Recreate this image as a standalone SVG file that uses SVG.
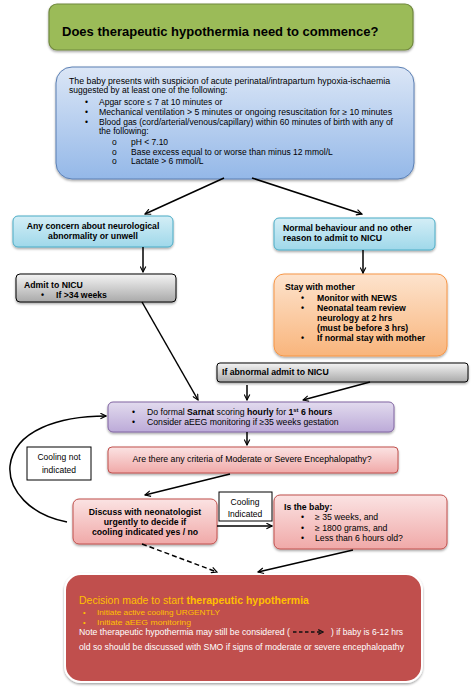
<svg xmlns="http://www.w3.org/2000/svg" width="474" height="694" viewBox="0 0 474 694">
<defs>
<linearGradient id="gBlue" x1="0" y1="0" x2="0" y2="1"><stop offset="0" stop-color="#dbe6f6"/><stop offset="1" stop-color="#94b8e8"/></linearGradient>
<linearGradient id="gCyan" x1="0" y1="0" x2="0" y2="1"><stop offset="0" stop-color="#d4eef6"/><stop offset="1" stop-color="#9fd8ea"/></linearGradient>
<linearGradient id="gGray" x1="0" y1="0" x2="0" y2="1"><stop offset="0" stop-color="#f4f4f4"/><stop offset="1" stop-color="#a9a9a9"/></linearGradient>
<linearGradient id="gOrange" x1="0" y1="0" x2="0" y2="1"><stop offset="0" stop-color="#fde3cd"/><stop offset="1" stop-color="#f9b57c"/></linearGradient>
<linearGradient id="gPurple" x1="0" y1="0" x2="0" y2="1"><stop offset="0" stop-color="#e2dbee"/><stop offset="1" stop-color="#bcaad8"/></linearGradient>
<linearGradient id="gPink" x1="0" y1="0" x2="0" y2="1"><stop offset="0" stop-color="#fbe3e3"/><stop offset="1" stop-color="#f0a9a8"/></linearGradient>
<filter id="sh" x="-10%" y="-10%" width="120%" height="130%"><feDropShadow dx="0" dy="1.5" stdDeviation="1.2" flood-color="#000" flood-opacity="0.35"/></filter>
<marker id="ah" viewBox="0 0 10 10" refX="9" refY="5" markerWidth="7" markerHeight="7" orient="auto" markerUnits="userSpaceOnUse"><path d="M1,1 L9,5 L1,9" fill="none" stroke="#000" stroke-width="1.6"/></marker>
<marker id="ahs" viewBox="0 0 10 10" refX="9" refY="5" markerWidth="6" markerHeight="6" orient="auto" markerUnits="userSpaceOnUse"><path d="M1,1 L9,5 L1,9" fill="none" stroke="#111" stroke-width="2"/></marker>
</defs>
<style>
text{font-family:"Liberation Sans",Arial,sans-serif;fill:#000}
.t8{font-size:8.7px}
.s8{font-size:8.5px}
.b8{font-size:8.7px;font-weight:bold}
.n8{font-size:8.5px}
.ln{stroke:#000;stroke-width:1.5;fill:none}
.c{text-anchor:middle}
.y{fill:#ffc000}
.w{fill:#fff;font-size:8.6px}
</style>
<rect width="474" height="694" fill="#fff"/>

<g id="title">
<rect x="49" y="4" width="364" height="46" rx="8" fill="#9bbb59" stroke="#71893f" stroke-width="1.2" filter="url(#sh)"/>
<text x="62" y="36" style="font-size:13px;font-weight:bold">Does therapeutic hypothermia need to commence?</text>
</g>

<g id="presents">
<rect x="56" y="67" width="358" height="112" rx="16" fill="url(#gBlue)" stroke="#5b7fb3" stroke-width="1" filter="url(#sh)"/>
<text class="s8" x="69" y="84" textLength="321" lengthAdjust="spacingAndGlyphs">The baby presents with suspicion of acute perinatal/intrapartum hypoxia-ischaemia</text>
<text class="s8" x="69" y="93">suggested by at least one of the following:</text>
<text class="s8" x="85" y="105">•</text><text class="s8" x="99" y="105">Apgar score ≤ 7 at 10 minutes or</text>
<text class="s8" x="85" y="115">•</text><text class="s8" x="99" y="115" textLength="293" lengthAdjust="spacingAndGlyphs">Mechanical ventilation &gt; 5 minutes or ongoing resuscitation for ≥ 10 minutes</text>
<text class="s8" x="85" y="125">•</text><text class="s8" x="99" y="125" textLength="294" lengthAdjust="spacingAndGlyphs">Blood gas (cord/arterial/venous/capillary) within 60 minutes of birth with any of</text>
<text class="s8" x="99" y="134">the following:</text>
<text class="s8" x="112" y="145">o</text><text class="s8" x="131" y="145">pH &lt; 7.10</text>
<text class="s8" x="112" y="155">o</text><text class="s8" x="131" y="155">Base excess equal to or worse than minus 12 mmol/L</text>
<text class="s8" x="112" y="164">o</text><text class="s8" x="131" y="164">Lactate &gt; 6 mmol/L</text>
</g>

<g id="concern">
<rect x="13" y="216" width="160" height="31" rx="5" fill="url(#gCyan)" stroke="#4bacc6" stroke-width="1" filter="url(#sh)"/>
<text class="b8 c" x="93" y="229">Any concern about neurological</text>
<text class="b8 c" x="93" y="239">abnormality or unwell</text>
</g>

<g id="normal">
<rect x="274" y="218" width="161" height="32" rx="5" fill="url(#gCyan)" stroke="#4bacc6" stroke-width="1" filter="url(#sh)"/>
<text class="b8" x="283" y="231">Normal behaviour and no other</text>
<text class="b8" x="283" y="241">reason to admit to NICU</text>
</g>

<g id="admit">
<rect x="16" y="274" width="160" height="28" rx="4" fill="url(#gGray)" stroke="#000" stroke-width="1" filter="url(#sh)"/>
<text class="b8" x="24" y="288">Admit to NICU</text>
<text class="b8" x="41" y="298">•</text><text class="b8" x="56" y="298">If &gt;34 weeks</text>
</g>

<g id="mother">
<rect x="274" y="274" width="173" height="82" rx="10" fill="url(#gOrange)" stroke="#f79646" stroke-width="1" filter="url(#sh)"/>
<text class="b8" x="285" y="290">Stay with mother</text>
<text class="b8" x="301" y="301">•</text><text class="b8" x="317" y="301">Monitor with NEWS</text>
<text class="b8" x="301" y="311">•</text><text class="b8" x="317" y="311">Neonatal team review</text>
<text class="b8" x="317" y="321">neurology at 2 hrs</text>
<text class="b8" x="317" y="331">(must be before 3 hrs)</text>
<text class="b8" x="301" y="341">•</text><text class="b8" x="317" y="341">If normal stay with mother</text>
</g>

<g id="abnormal">
<rect x="217" y="363" width="251" height="19" rx="3" fill="url(#gGray)" stroke="#000" stroke-width="1" filter="url(#sh)"/>
<text class="b8" x="222" y="375">If abnormal admit to NICU</text>
</g>

<g id="sarnat">
<rect x="108" y="402" width="286" height="30" rx="5" fill="url(#gPurple)" stroke="#8064a2" stroke-width="1" filter="url(#sh)"/>
<text class="t8" x="132" y="415">•</text><text class="t8" x="147" y="415">Do formal <tspan font-weight="bold">Sarnat</tspan> scoring <tspan font-weight="bold">hourly</tspan> for <tspan font-weight="bold">1<tspan font-size="5.8px" dy="-3">st</tspan><tspan dy="3"> 6 hours</tspan></tspan></text>
<text class="t8" x="132" y="425">•</text><text class="t8" x="147" y="425">Consider aEEG monitoring if ≥35 weeks gestation</text>
</g>

<g id="criteria">
<rect x="108" y="447" width="290" height="26" rx="4" fill="url(#gPink)" stroke="#c0504d" stroke-width="1" filter="url(#sh)"/>
<text class="t8 c" x="252" y="462">Are there any criteria of Moderate or Severe Encephalopathy?</text>
</g>

<g id="notIndicated">
<rect x="27" y="447" width="64" height="33" fill="#fff" stroke="#000" stroke-width="1"/>
<text class="n8 c" x="59" y="460">Cooling not</text>
<text class="n8 c" x="59" y="473">indicated</text>
</g>

<g id="discuss">
<rect x="73" y="499" width="144" height="45" rx="6" fill="url(#gPink)" stroke="#c0504d" stroke-width="1" filter="url(#sh)"/>
<text class="b8 c" x="145" y="515">Discuss with neonatologist</text>
<text class="b8 c" x="145" y="525">urgently to decide if</text>
<text class="b8 c" x="145" y="535">cooling indicated yes / no</text>
</g>

<g id="indicated">
<rect x="219" y="492" width="53" height="29" fill="#fff" stroke="#000" stroke-width="1"/>
<text class="n8 c" x="245" y="505">Cooling</text>
<text class="n8 c" x="245" y="517">Indicated</text>
</g>

<g id="isbaby">
<rect x="274" y="495" width="173" height="54" rx="6" fill="url(#gPink)" stroke="#c0504d" stroke-width="1" filter="url(#sh)"/>
<text class="b8" x="284" y="510">Is the baby:</text>
<text class="t8" x="301" y="520">•</text><text class="t8" x="315" y="520">≥ 35 weeks, and</text>
<text class="t8" x="301" y="531">•</text><text class="t8" x="315" y="531">≥ 1800 grams, and</text>
<text class="t8" x="301" y="541">•</text><text class="t8" x="315" y="541">Less than 6 hours old?</text>
</g>

<g id="decision">
<rect x="65" y="574" width="357" height="108" rx="16" fill="#c0504d" stroke="#fff" stroke-width="2" filter="url(#sh)"/>
<text class="y" x="79" y="604" style="font-size:10.5px">Decision made to start <tspan font-weight="bold">therapeutic hypothermia</tspan></text>
<text class="y" x="83" y="615" style="font-size:7.5px">•</text><text class="y" x="97" y="615" style="font-size:7.5px" textLength="123" lengthAdjust="spacingAndGlyphs">Initiate active cooling URGENTLY</text>
<text class="y" x="83" y="625" style="font-size:7.5px">•</text><text class="y" x="97" y="625" style="font-size:7.5px" textLength="94" lengthAdjust="spacingAndGlyphs">Initiate aEEG monitoring</text>
<text class="w" x="79" y="635" textLength="211" lengthAdjust="spacingAndGlyphs">Note therapeutic hypothermia may still be considered (</text>
<line x1="293" y1="632" x2="323" y2="632" stroke="#111" stroke-width="1.4" stroke-dasharray="3.5,2.5" marker-end="url(#ahs)"/>
<text class="w" x="331" y="635" textLength="72" lengthAdjust="spacingAndGlyphs">) if baby is 6-12 hrs</text>
<text class="w" x="79" y="650" textLength="325" lengthAdjust="spacingAndGlyphs">old so should be discussed with SMO if signs of moderate or severe encephalopathy</text>
</g>

<g id="connectors">
<line class="ln" x1="224" y1="178" x2="145" y2="214" marker-end="url(#ah)"/>
<line class="ln" x1="252" y1="178" x2="362" y2="214" marker-end="url(#ah)"/>
<line class="ln" x1="143" y1="247" x2="143" y2="272" marker-end="url(#ah)"/>
<line class="ln" x1="363" y1="250" x2="363" y2="273" marker-end="url(#ah)"/>
<line class="ln" x1="142" y1="302" x2="198" y2="400" marker-end="url(#ah)"/>
<line class="ln" x1="247" y1="385" x2="247" y2="400" marker-end="url(#ah)"/>
<line class="ln" x1="370" y1="382" x2="303" y2="400" marker-end="url(#ah)"/>
<line class="ln" x1="247" y1="432" x2="247" y2="445" marker-end="url(#ah)"/>
<line class="ln" x1="230" y1="474" x2="145" y2="495" marker-end="url(#ah)"/>
<path class="ln" d="M67,522 C30,515 8,490 10,466 C14,430 60,416 106,416" marker-end="url(#ah)"/>
<line class="ln" x1="217" y1="526" x2="272" y2="526" marker-end="url(#ah)"/>
<line class="ln" x1="142" y1="544" x2="217" y2="572" stroke-dasharray="5,3" marker-end="url(#ah)"/>
<line class="ln" x1="353" y1="550" x2="258" y2="572" marker-end="url(#ah)"/>
</g>
</svg>
